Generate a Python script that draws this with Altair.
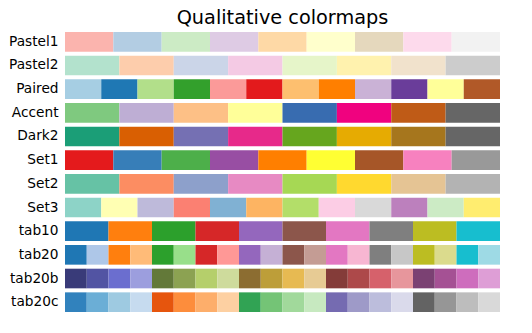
import altair as alt
import pandas as pd

names = ["Pastel1", "Pastel2", "Paired", "Accent", "Dark2", "Set1", "Set2", "Set3",
         "tab10", "tab20", "tab20b", "tab20c"]

Pastel1 = ["#fbb4ae", "#b3cde3", "#ccebc5", "#decbe4", "#fed9a6", "#ffffcc", "#e5d8bd", "#fddaec", "#f2f2f2"]
Pastel2 = ["#b3e2cd", "#fdcdac", "#cbd5e8", "#f4cae4", "#e6f5c9", "#fff2ae", "#f1e2cc", "#cccccc"]
Paired = ["#a6cee3", "#1f78b4", "#b2df8a", "#33a02c", "#fb9a99", "#e31a1c", "#fdbf6f", "#ff7f00",
          "#cab2d6", "#6a3d9a", "#ffff99", "#b15928"]
Accent = ["#7fc97f", "#beaed4", "#fdc086", "#ffff99", "#386cb0", "#f0027f", "#bf5b17", "#666666"]
Dark2 = ["#1b9e77", "#d95f02", "#7570b3", "#e7298a", "#66a61e", "#e6ab02", "#a6761d", "#666666"]
Set1 = ["#e41a1c", "#377eb8", "#4daf4a", "#984ea3", "#ff7f00", "#ffff33", "#a65628", "#f781bf", "#999999"]
Set2 = ["#66c2a5", "#fc8d62", "#8da0cb", "#e78ac3", "#a6d854", "#ffd92f", "#e5c494", "#b3b3b3"]
Set3 = ["#8dd3c7", "#ffffb3", "#bebada", "#fb8072", "#80b1d3", "#fdb462", "#b3de69", "#fccde5",
        "#d9d9d9", "#bc80bd", "#ccebc5", "#ffed6f"]
tab10 = ["#1f77b4", "#ff7f0e", "#2ca02c", "#d62728", "#9467bd", "#8c564b", "#e377c2", "#7f7f7f",
         "#bcbd22", "#17becf"]
tab20 = ["#1f77b4", "#aec7e8", "#ff7f0e", "#ffbb78", "#2ca02c", "#98df8a", "#d62728", "#ff9896",
         "#9467bd", "#c5b0d5", "#8c564b", "#c49c94", "#e377c2", "#f7b6d2", "#7f7f7f", "#c7c7c7",
         "#bcbd22", "#dbdb8d", "#17becf", "#9edae5"]
tab20b = ["#393b79", "#5254a3", "#6b6ecf", "#9c9ede", "#637939", "#8ca252", "#b5cf6b", "#cedb9c",
          "#8c6d31", "#bd9e39", "#e7ba52", "#e7cb94", "#843c39", "#ad494a", "#d6616b", "#e7969c",
          "#7b4173", "#a55194", "#ce6dbd", "#de9ed6"]
tab20c = ["#3182bd", "#6baed6", "#9ecae1", "#c6dbef", "#e6550d", "#fd8d3c", "#fdae6b", "#fdd0a2",
          "#31a354", "#74c476", "#a1d99b", "#c7e9c0", "#756bb1", "#9e9ac8", "#bcbddc", "#dadaeb",
          "#636363", "#969696", "#bdbdbd", "#d9d9d9"]

palettes = [Pastel1, Pastel2, Paired, Accent, Dark2, Set1, Set2, Set3, tab10, tab20, tab20b, tab20c]

rows = []
for name, pal in zip(names, palettes):
    n = len(pal)
    for i, c in enumerate(pal):
        rows.append({"name": name, "x0": i / n, "x1": (i + 1) / n, "color": c})
df = pd.DataFrame(rows)

chart = alt.Chart(df).mark_rect().encode(
    x=alt.X("x0:Q", scale=alt.Scale(domain=[0, 1], nice=False, zero=False), axis=None),
    x2="x1:Q",
    y=alt.Y("name:N", sort=names,
            scale=alt.Scale(paddingInner=0.17, paddingOuter=0),
            axis=alt.Axis(title=None, ticks=False, domain=False, labelPadding=7,
                          labelFont="DejaVu Sans", labelFontSize=13.7, labelColor="black")),
    color=alt.Color("color:N", scale=None),
).properties(
    width=435, height=280,
    title=alt.TitleParams("Qualitative colormaps", font="DejaVu Sans", fontSize=19.3,
                          fontWeight="normal", color="black", anchor="middle",
                          frame="group", baseline="alphabetic", offset=-11),
    autosize=alt.AutoSizeParams(type="none"),
    padding={"left": 65, "top": 32, "right": 32, "bottom": 21},
).configure_view(strokeWidth=0)

chart.save("out.html", embed_options={"renderer": "svg", "actions": False})
